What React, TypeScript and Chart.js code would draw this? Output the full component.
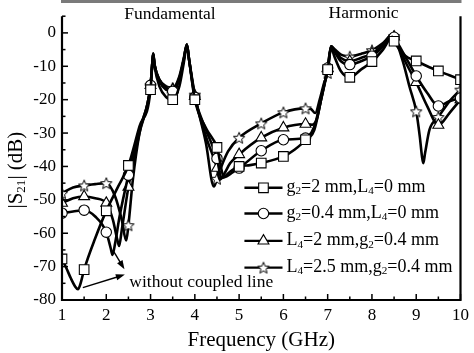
import React, { useEffect, useRef } from 'react';
import { Chart, registerables } from 'chart.js';
Chart.register(...registerables);

const FONT = '"Liberation Serif", "Times New Roman", Times, serif';

// Axis ticks
const xTicks = [1, 2, 3, 4, 5, 6, 7, 8, 9, 10];
const yTicks = [-80, -70, -60, -50, -40, -30, -20, -10, 0];

// Series: g2=2 mm, L4=0 mm (squares)
const sqX = [1, 1.1, 1.2, 1.3, 1.36, 1.42, 1.5, 1.75, 2, 2.25, 2.5, 2.75, 3, 3.04, 3.06, 3.09, 3.2, 3.35, 3.5, 3.65, 3.75, 3.82, 3.87, 4, 4.25, 4.5, 4.66, 4.8, 5, 5.25, 5.5, 6, 6.25, 6.5, 6.7, 6.85, 7, 7.08, 7.15, 7.3, 7.5, 7.75, 8, 8.25, 8.46, 8.5, 8.75, 9, 9.25, 9.5, 9.75, 10];
const sqY = [-67.7, -70.5, -73.5, -76, -76.8, -75, -70.9, -61.5, -53.3, -46.5, -39.7, -28, -17, -9, -6.5, -10, -16, -19.2, -20, -16, -9, -3.8, -8, -20, -28.5, -34.3, -43, -41.5, -40, -39.6, -39, -37, -35, -32, -28, -20, -11, -4.5, -7, -11.5, -13.3, -11, -8.6, -5, -1.2, -2.5, -6.8, -8.4, -10, -11.4, -12.7, -14];

// Series: g2=0.4 mm, L4=0 mm (circles)
const ciX = [1, 1.25, 1.5, 1.75, 2, 2.1, 2.14, 2.2, 2.3, 2.5, 2.75, 3, 3.04, 3.06, 3.09, 3.2, 3.35, 3.5, 3.65, 3.75, 3.82, 3.87, 4, 4.25, 4.5, 4.6, 4.72, 4.85, 5, 5.5, 6, 6.5, 6.7, 6.85, 7, 7.08, 7.15, 7.3, 7.5, 7.75, 8, 8.25, 8.45, 8.5, 8.6, 8.75, 9, 9.25, 9.5, 9.75, 10];
const ciY = [-54, -53.5, -53.1, -55, -59.7, -64.5, -66.5, -63, -55, -42.6, -29, -15.7, -9, -6.2, -9.5, -14.5, -17, -17.5, -14, -8, -3.5, -8, -19.3, -29, -37.6, -43.5, -43, -41.8, -40.5, -35.3, -32, -31.5, -29, -20, -10.5, -4, -5.5, -8.5, -9.5, -8.5, -7, -4, -0.7, -1.3, -3.5, -7, -12.9, -18, -21.9, -20.5, -19.5];

// Series: L4=2 mm, g2=0.4 mm (triangles)
const trX = [1, 1.25, 1.5, 1.75, 2, 2.15, 2.25, 2.29, 2.35, 2.5, 2.75, 3, 3.04, 3.06, 3.09, 3.2, 3.35, 3.5, 3.65, 3.75, 3.82, 3.87, 4, 4.25, 4.5, 4.56, 4.65, 4.8, 5, 5.5, 6, 6.5, 6.65, 6.75, 6.88, 7, 7.08, 7.15, 7.3, 7.5, 7.75, 8, 8.25, 8.45, 8.5, 8.6, 8.75, 9, 9.25, 9.5, 9.75, 10];
const trY = [-51, -49.5, -49, -49.5, -51, -56, -62, -63.8, -59, -46.2, -30, -15.7, -9, -6.2, -9.5, -14, -16.5, -17, -13.5, -8, -3.5, -8, -19, -31, -40.5, -44, -42.5, -39, -36.4, -31.4, -28.4, -27.3, -27.5, -26, -18, -10.5, -4, -5.2, -7.5, -8.5, -7.5, -6.2, -3.5, -0.5, -1.2, -3.8, -8.5, -14.8, -22, -27.6, -24, -20];

// Series: L4=2.5 mm, g2=0.4 mm (stars)
const stX = [1, 1.25, 1.5, 1.75, 2, 2.2, 2.35, 2.45, 2.5, 2.6, 2.75, 3, 3.04, 3.06, 3.09, 3.2, 3.35, 3.5, 3.65, 3.75, 3.82, 3.87, 4, 4.25, 4.43, 4.5, 4.6, 4.75, 5, 5.5, 6, 6.5, 6.62, 6.72, 6.82, 6.92, 7, 7.08, 7.15, 7.3, 7.5, 7.75, 8, 8.25, 8.47, 8.5, 8.7, 8.85, 9, 9.08, 9.13, 9.16, 9.2, 9.3, 9.5, 9.75, 10];
const stY = [-48, -46.3, -45.7, -45.3, -45, -49, -56, -62.2, -57.6, -44, -30, -15.7, -9, -6.2, -9.5, -14, -16, -16.5, -13, -7.5, -3.5, -8, -18.5, -33, -46, -43.7, -40, -35.5, -31.4, -27.1, -23.8, -22.6, -22.8, -24, -20, -15, -12, -4, -4.8, -6.5, -7.1, -6.3, -5.2, -3, -0.5, -1, -8.6, -16.2, -23.5, -31, -37, -39, -36, -29, -25.2, -20.5, -17];

const seriesLabels = [
  'g_2=2 mm,L_4=0 mm',
  'g_2=0.4 mm,L_4=0 mm',
  'L_4=2 mm,g_2=0.4 mm',
  'L_4=2.5 mm,g_2=0.4 mm',
];
const markerKinds = ['square', 'circle', 'triangle', 'star'];

const xTitle = 'Frequency (GHz)';
const yTitle = '|S_{21}| (dB)';
const noteFundamental = 'Fundamental';
const noteHarmonic = 'Harmonic';
const noteWithout = 'without coupled line';

type Seg = { t: string; sub: boolean };
function parseRich(s: string): Seg[] {
  const segs: Seg[] = [];
  let buf = '';
  let i = 0;
  while (i < s.length) {
    if (s[i] === '_') {
      if (buf) { segs.push({ t: buf, sub: false }); buf = ''; }
      if (s[i + 1] === '{') {
        const j = s.indexOf('}', i);
        segs.push({ t: s.slice(i + 2, j), sub: true });
        i = j + 1;
      } else {
        segs.push({ t: s[i + 1], sub: true });
        i += 2;
      }
    } else {
      buf += s[i];
      i++;
    }
  }
  if (buf) segs.push({ t: buf, sub: false });
  return segs;
}

function drawRich(ctx: CanvasRenderingContext2D, s: string, x: number, y: number, size: number, align: 'left' | 'center') {
  const segs = parseRich(s);
  const subSize = size * 0.62;
  let total = 0;
  const widths = segs.map((g) => {
    ctx.font = `${g.sub ? subSize : size}px ${FONT}`;
    const w = ctx.measureText(g.t).width;
    total += w;
    return w;
  });
  let cx = align === 'center' ? x - total / 2 : x;
  ctx.textAlign = 'left';
  ctx.textBaseline = 'alphabetic';
  segs.forEach((g, i) => {
    ctx.font = `${g.sub ? subSize : size}px ${FONT}`;
    ctx.fillText(g.t, cx, g.sub ? y + size * 0.12 : y);
    cx += widths[i];
  });
}

function starPath(g: CanvasRenderingContext2D, cx: number, cy: number, r: number) {
  g.beginPath();
  for (let i = 0; i < 10; i++) {
    const ang = -Math.PI / 2 + (i * Math.PI) / 5;
    const rr = i % 2 === 0 ? r : r * 0.45;
    g.lineTo(cx + rr * Math.cos(ang), cy + rr * Math.sin(ang));
  }
  g.closePath();
}

function makeStar(r: number) {
  const c = document.createElement('canvas');
  const s = Math.ceil(r * 2 + 4);
  c.width = s;
  c.height = s;
  const g = c.getContext('2d')!;
  starPath(g, s / 2, s / 2 + r * 0.1, r);
  g.fillStyle = '#fff';
  g.fill();
  g.strokeStyle = '#000';
  g.lineWidth = 1;
  g.stroke();
  return c;
}

function drawMarker(ctx: CanvasRenderingContext2D, kind: string, x: number, y: number, star: HTMLCanvasElement) {
  ctx.save();
  ctx.fillStyle = '#fff';
  ctx.strokeStyle = '#000';
  ctx.lineWidth = 1.1;
  ctx.beginPath();
  if (kind === 'square') {
    ctx.rect(x - 4.8, y - 4.8, 9.6, 9.6);
  } else if (kind === 'circle') {
    ctx.arc(x, y, 5.2, 0, Math.PI * 2);
  } else if (kind === 'triangle') {
    const r = 6.3;
    ctx.moveTo(x, y - r);
    ctx.lineTo(x + r * Math.sin(Math.PI * 2 / 3), y - r * Math.cos(Math.PI * 2 / 3));
    ctx.lineTo(x + r * Math.sin(Math.PI * 4 / 3), y - r * Math.cos(Math.PI * 4 / 3));
    ctx.closePath();
  } else {
    ctx.drawImage(star, x - star.width / 2, y - star.height / 2);
    ctx.restore();
    return;
  }
  ctx.fill();
  ctx.stroke();
  ctx.restore();
}

function isMarker(x: number | undefined) {
  if (x === undefined) return false;
  return Math.abs(x * 2 - Math.round(x * 2)) < 1e-9;
}

function arrow(ctx: CanvasRenderingContext2D, x1: number, y1: number, x2: number, y2: number) {
  const ang = Math.atan2(y2 - y1, x2 - x1);
  const len = 9;
  const hw = 3.2;
  ctx.beginPath();
  ctx.moveTo(x1, y1);
  ctx.lineTo(x2 - Math.cos(ang) * len * 0.8, y2 - Math.sin(ang) * len * 0.8);
  ctx.stroke();
  ctx.beginPath();
  ctx.moveTo(x2, y2);
  ctx.lineTo(x2 - Math.cos(ang) * len - Math.sin(ang) * hw, y2 - Math.sin(ang) * len + Math.cos(ang) * hw);
  ctx.lineTo(x2 - Math.cos(ang) * len + Math.sin(ang) * hw, y2 - Math.sin(ang) * len - Math.cos(ang) * hw);
  ctx.closePath();
  ctx.fill();
}

export default function App() {
  const ref = useRef<HTMLCanvasElement>(null);

  useEffect(() => {
    document.body.style.margin = '0';
    const star = makeStar(6);

    const overlay = {
      id: 'overlay',
      afterDraw(chart: any) {
        const { ctx, chartArea: a, scales } = chart;
        const xs = scales.x;
        const ys = scales.y;
        const px = (v: number) => xs.getPixelForValue(v);
        const py = (v: number) => ys.getPixelForValue(v);
        ctx.save();
        ctx.fillStyle = '#000';
        ctx.strokeStyle = '#000';

        // inward ticks
        ctx.lineWidth = 1.5;
        for (let v = -80; v <= 5; v += 5) {
          const yy = py(v);
          const len = v % 10 === 0 ? 6 : 3.5;
          ctx.beginPath();
          ctx.moveTo(a.left, yy);
          ctx.lineTo(a.left + len, yy);
          ctx.stroke();
        }
        for (let v = 1; v <= 10; v += 0.5) {
          const xx = px(v);
          const len = Number.isInteger(v) ? 6 : 3.5;
          ctx.beginPath();
          ctx.moveTo(xx, a.bottom);
          ctx.lineTo(xx, a.bottom - len);
          ctx.stroke();
        }

        // frame
        ctx.lineWidth = 2.2;
        ctx.beginPath();
        ctx.moveTo(a.left, a.top);
        ctx.lineTo(a.left, a.bottom);
        ctx.lineTo(a.right, a.bottom);
        ctx.lineTo(a.right, a.top);
        ctx.stroke();
        ctx.strokeStyle = '#7a7a7a';
        ctx.lineWidth = 3;
        ctx.beginPath();
        ctx.moveTo(a.left - 1, 1.5);
        ctx.lineTo(a.right + 1, 1.5);
        ctx.stroke();
        ctx.strokeStyle = '#000';

        // annotations
        ctx.fillStyle = '#000';
        drawRich(ctx, noteFundamental, px(3.44), 19.3, 17.5, 'center');
        drawRich(ctx, noteHarmonic, px(7.81), 17.5, 17.5, 'center');
        drawRich(ctx, noteWithout, px(2.52), py(-76.2), 17.5, 'left');
        ctx.lineWidth = 1.4;
        arrow(ctx, px(1.47), py(-76.3), px(2.42), py(-72.4));
        arrow(ctx, px(2.17), py(-65.5), px(2.41), py(-70.8));

        // legend
        const rows = [-46.4, -54.1, -62.3, -70.3];
        rows.forEach((rv, i) => {
          const yy = py(rv);
          ctx.lineWidth = 2.4;
          ctx.beginPath();
          ctx.moveTo(px(5.12), yy);
          ctx.lineTo(px(5.98), yy);
          ctx.stroke();
          drawMarker(ctx, markerKinds[i], px(5.55), yy, star);
          ctx.fillStyle = '#000';
          drawRich(ctx, seriesLabels[i], px(6.07), yy + 4.5, 18, 'left');
        });

        // axis titles
        drawRich(ctx, xTitle, (a.left + a.right) / 2, 346, 21, 'center');
        ctx.save();
        ctx.translate(22, (a.top + a.bottom) / 2 + 12);
        ctx.rotate(-Math.PI / 2);
        drawRich(ctx, yTitle, 0, 0, 21, 'center');
        ctx.restore();

        ctx.restore();
      },
    };

    const mk = (xsArr: number[], ysArr: number[], i: number) => {
      const kind = markerKinds[i];
      const style = kind === 'square' ? 'rect' : kind === 'circle' ? 'circle' : kind === 'triangle' ? 'triangle' : star;
      const r = kind === 'square' ? 6.8 : kind === 'circle' ? 5.2 : kind === 'triangle' ? 6.3 : 6;
      return {
        label: seriesLabels[i],
        data: xsArr.map((x, k) => ({ x, y: ysArr[k] })),
        borderColor: '#000',
        borderWidth: 2.6,
        backgroundColor: '#fff',
        pointBackgroundColor: '#fff',
        pointBorderColor: '#000',
        pointBorderWidth: 1.1,
        pointStyle: style,
        pointRadius: (c: any) => (isMarker(c.raw ? c.raw.x : undefined) ? r : 0),
        pointHoverRadius: 0,
        cubicInterpolationMode: 'monotone',
        fill: false,
      };
    };

    const chart = new Chart(ref.current!, {
      type: 'line',
      data: {
        datasets: [
          mk(sqX, sqY, 0),
          mk(ciX, ciY, 1),
          mk(trX, trY, 2),
          mk(stX, stY, 3),
        ] as any,
      },
      options: {
        animation: false,
        responsive: false,
        devicePixelRatio: 1,
        events: [],
        layout: { padding: { top: 2.5, right: 9, left: 0, bottom: 0 } },
        plugins: { legend: { display: false }, tooltip: { enabled: false }, title: { display: false } },
        scales: {
          x: {
            type: 'linear',
            min: 1,
            max: 10,
            afterBuildTicks: (s: any) => { s.ticks = xTicks.map((v) => ({ value: v })); },
            afterFit: (s: any) => { s.height = 53; },
            ticks: { font: { family: FONT, size: 17 }, color: '#000', padding: 5, maxRotation: 0, autoSkip: false },
            grid: { display: false, drawTicks: false },
            border: { display: false },
          },
          y: {
            type: 'linear',
            min: -80,
            max: 5,
            afterBuildTicks: (s: any) => { s.ticks = yTicks.map((v) => ({ value: v })); },
            afterFit: (s: any) => { s.width = 62; },
            ticks: { font: { family: FONT, size: 17 }, color: '#000', padding: 6 },
            grid: { display: false, drawTicks: false },
            border: { display: false },
          },
        },
      } as any,
      plugins: [overlay],
    });
    return () => chart.destroy();
  }, []);

  return (
    <div style={{ width: 474, height: 353 }}>
      <canvas ref={ref} width={474} height={353} />
    </div>
  );
}
